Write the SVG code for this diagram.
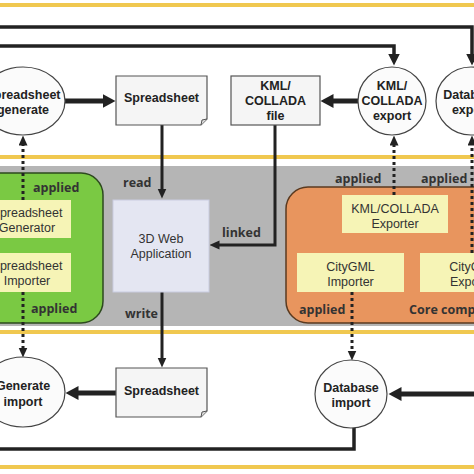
<svg xmlns="http://www.w3.org/2000/svg" width="474" height="474" viewBox="0 0 474 474">
<style>
.band{stroke:#f0c850;stroke-width:4}
.ell{fill:#fbfbfb;stroke:#444;stroke-width:1.2}
.doc{fill:#f5f5f5;stroke:#555;stroke-width:1.2}
.comp{fill:#f6f4b6}
.nb{font-family:"Liberation Sans",Arial,sans-serif;font-weight:bold;font-size:12.5px;fill:#222;text-anchor:middle}
.nr{font-family:"Liberation Sans",Arial,sans-serif;font-size:12.5px;fill:#333;text-anchor:middle}
.lb{font-family:"Open Sans",sans-serif;font-weight:bold;font-size:12.5px;fill:#333}
.thick{fill:none;stroke:#222;stroke-width:5}
.med{fill:none;stroke:#222;stroke-width:3.5}
.thin{fill:none;stroke:#222;stroke-width:3}
.dot{fill:none;stroke:#222;stroke-width:3;stroke-dasharray:3 3}
</style>
<defs>
<marker id="big" markerUnits="userSpaceOnUse" markerWidth="14" markerHeight="14" refX="0.5" refY="7" orient="auto"><path d="M0,0 L13,7 L0,14 z" fill="#222"/></marker>
<marker id="mid" markerUnits="userSpaceOnUse" markerWidth="12" markerHeight="12" refX="0.5" refY="6" orient="auto"><path d="M0,0 L12,6 L0,12 z" fill="#222"/></marker>
<marker id="sm" markerUnits="userSpaceOnUse" markerWidth="10" markerHeight="10" refX="0.5" refY="4.5" orient="auto"><path d="M0,0 L10,4.5 L0,9 z" fill="#222"/></marker>
</defs>

<g id="background">
<rect x="0" y="166" width="474" height="160" fill="#b5b5b5"/>
<line class="band" x1="0" y1="5" x2="474" y2="5"/>
<line class="band" x1="0" y1="157" x2="474" y2="157"/>
<line class="band" x1="0" y1="332" x2="474" y2="332"/>
<line class="band" x1="0" y1="467" x2="474" y2="467"/>
</g>

<g id="spreadsheet-components">
<rect x="-22" y="173" width="125" height="150" rx="22" fill="#7ac943" stroke="#2d4a1e" stroke-width="1.5"/>
<text class="lb" x="33" y="191.5">applied</text>
<text class="lb" x="31" y="312.5">applied</text>
</g>

<g id="core-components">
<rect x="286" y="187" width="214" height="136" rx="22" fill="#e8955e" stroke="#5a3a20" stroke-width="1.5"/>
<text class="lb" x="299" y="313.5">applied</text>
<text class="lb" x="409" y="313.5">Core components</text>
</g>

<g id="connectors">
<path class="med" d="M0,27 H472 V54" marker-end="url(#mid)"/>
<path class="med" d="M0,46 H394 V54" marker-end="url(#mid)"/>
<path class="thick" d="M65,101 H103" marker-end="url(#big)"/>
<path class="thick" d="M358,101 H333" marker-end="url(#big)"/>
<path class="thin" d="M162,125 V189" marker-end="url(#sm)"/>
<path class="thin" d="M275,125 V245 H219" marker-end="url(#sm)"/>
<path class="thin" d="M162,292 V358" marker-end="url(#sm)"/>
<path class="thick" d="M116,393 H78" marker-end="url(#big)"/>
<path class="med" d="M0,449 H354 V428"/>
<path class="thick" d="M474,394 H401" marker-end="url(#big)"/>
<path class="dot" d="M23,200 V145" marker-end="url(#sm)"/>
<path class="dot" d="M23,292 V348" marker-end="url(#sm)"/>
<path class="dot" d="M394,195 V145" marker-end="url(#sm)"/>
<path class="dot" d="M472,253 V145" marker-end="url(#sm)"/>
<path class="dot" d="M352,292 V351" marker-end="url(#sm)"/>
<text class="lb" x="123" y="187">read</text>
<text class="lb" x="125" y="317.5">write</text>
<text class="lb" x="222" y="236.5">linked</text>
<text class="lb" x="335" y="182.5">applied</text>
<text class="lb" x="421" y="182.5">applied</text>
</g>

<g id="spreadsheet-generate">
<ellipse class="ell" cx="23" cy="101" rx="42" ry="34"/>
<text class="nb" x="23" y="98.5">Spreadsheet</text>
<text class="nb" x="23" y="114">generate</text>
</g>

<g id="spreadsheet-top">
<path class="doc" d="M116,76 H207 V119 L201,125 H116 Z"/>
<path d="M201,125 L202,120 L207,119" fill="#ddd" stroke="#555" stroke-width="1"/>
<text class="nb" x="161.5" y="101.5">Spreadsheet</text>
</g>

<g id="kml-file">
<rect class="doc" x="231" y="76" width="89" height="49"/>
<text class="nb" x="275.5" y="89.5">KML/</text>
<text class="nb" x="275.5" y="104.5">COLLADA</text>
<text class="nb" x="275.5" y="120">file</text>
</g>

<g id="kml-export">
<ellipse class="ell" cx="392" cy="101" rx="34" ry="34"/>
<text class="nb" x="392" y="89.5">KML/</text>
<text class="nb" x="392" y="104.5">COLLADA</text>
<text class="nb" x="392" y="120">export</text>
</g>

<g id="database-export">
<ellipse class="ell" cx="471" cy="101" rx="35" ry="34"/>
<text class="nb" x="471" y="98.5">Database</text>
<text class="nb" x="471" y="114">export</text>
</g>

<g id="spreadsheet-generator">
<rect class="comp" x="-17" y="200" width="88" height="38"/>
<text class="nr" x="27" y="216.5">Spreadsheet</text>
<text class="nr" x="27" y="231.5">Generator</text>
</g>

<g id="spreadsheet-importer">
<rect class="comp" x="-17" y="253" width="88" height="39"/>
<text class="nr" x="27" y="269.5">Spreadsheet</text>
<text class="nr" x="27" y="284.5">Importer</text>
</g>

<g id="web-app">
<rect x="113" y="200" width="96" height="92" fill="#e4e6f2" stroke="#c9cce0" stroke-width="1"/>
<text class="nr" x="161" y="242.5">3D Web</text>
<text class="nr" x="161" y="257.5">Application</text>
</g>

<g id="kml-exporter">
<rect class="comp" x="342" y="195" width="106" height="38"/>
<text class="nr" x="395" y="212.5">KML/COLLADA</text>
<text class="nr" x="395" y="227.5">Exporter</text>
</g>

<g id="citygml-importer">
<rect class="comp" x="297" y="253" width="107" height="39"/>
<text class="nr" x="350.5" y="271">CityGML</text>
<text class="nr" x="350.5" y="285.5">Importer</text>
</g>

<g id="citygml-exporter">
<rect class="comp" x="420" y="253" width="107" height="39"/>
<text class="nr" x="473.5" y="271">CityGML</text>
<text class="nr" x="473.5" y="285.5">Exporter</text>
</g>

<g id="spreadsheet-bottom">
<path class="doc" d="M116,368 H207 V411 L201,417 H116 Z"/>
<path d="M201,417 L202,412 L207,411" fill="#ddd" stroke="#555" stroke-width="1"/>
<text class="nb" x="161.5" y="394.5">Spreadsheet</text>
</g>

<g id="generate-import">
<ellipse class="ell" cx="23" cy="392" rx="42" ry="35"/>
<text class="nb" x="23" y="389.5">Generate</text>
<text class="nb" x="23" y="405.5">import</text>
</g>

<g id="database-import">
<ellipse class="ell" cx="351" cy="394" rx="36" ry="34"/>
<text class="nb" x="351" y="391.5">Database</text>
<text class="nb" x="351" y="406.5">import</text>
</g>
</svg>
